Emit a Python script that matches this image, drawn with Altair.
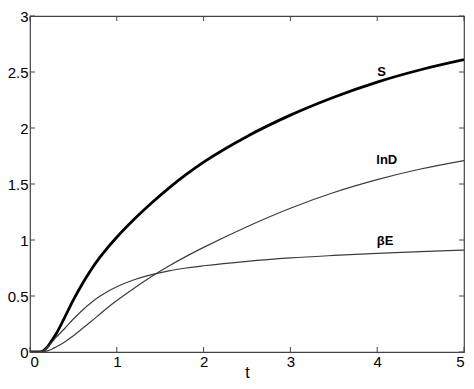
import altair as alt
import pandas as pd

t = [0, 0.1, 0.15, 0.2, 0.25, 0.3, 0.4, 0.5, 0.6, 0.7, 0.8, 0.9, 1.0, 1.2, 1.4, 1.6, 1.8, 2.0, 2.5, 3.0, 3.5, 4.0, 4.5, 5.0]
S = [0, 0, 0.01, 0.045, 0.10, 0.16, 0.31, 0.465, 0.605, 0.73, 0.84, 0.937, 1.025, 1.185, 1.33, 1.463, 1.585, 1.695, 1.925, 2.115, 2.275, 2.41, 2.52, 2.61]
bE = [0, 0, 0.01, 0.04, 0.085, 0.13, 0.21, 0.295, 0.371, 0.438, 0.495, 0.543, 0.583, 0.645, 0.691, 0.725, 0.75, 0.77, 0.81, 0.84, 0.862, 0.881, 0.897, 0.91]
lnD = [0, 0, 0.002, 0.01, 0.025, 0.045, 0.09, 0.145, 0.207, 0.27, 0.335, 0.40, 0.46, 0.57, 0.674, 0.768, 0.854, 0.934, 1.119, 1.284, 1.424, 1.539, 1.634, 1.709]

label_text = ["S", "lnD", "βE"]
label_t = [4.05, 4.11, 4.09]
label_y = [2.50, 1.71, 0.99]

x_ticks = [0, 1, 2, 3, 4, 5]
y_ticks = [0, 0.5, 1, 1.5, 2, 2.5, 3]

W, H = 434, 336
FONT = "Liberation Sans"

xs = alt.Scale(domain=[0, 5], nice=False)
ys = alt.Scale(domain=[0, 3], nice=False)

x_axis = alt.Axis(values=x_ticks, format="~g", ticks=False, domain=False, grid=False,
                  labelFontSize=15, labelPadding=2, labelColor="#000", labelFont=FONT,
                  titleFontSize=16, titleFontWeight="normal", titleColor="#000", titleFont=FONT,
                  titleBaseline="alphabetic", titleY=25)
y_axis = alt.Axis(values=y_ticks, format="~g", ticks=False, domain=False, grid=False,
                  labelFontSize=15, labelPadding=2, labelColor="#000", labelFont=FONT)


def X(field):
    return alt.X(field, scale=xs, title="t", axis=x_axis)


def Y(field):
    return alt.Y(field, scale=ys, title=None, axis=y_axis)


def curve(vals, color, width):
    df = pd.DataFrame({"t": t, "value": vals})
    return alt.Chart(df).mark_line(interpolate="monotone", clip=True, color=color,
                                   strokeWidth=width).encode(x=X("t:Q"), y=Y("value:Q"))


line_S = curve(S, "#000000", 2.8)
line_lnD = curve(lnD, "#3c3c3c", 1.2)
line_bE = curve(bE, "#3c3c3c", 1.2)

lab_df = pd.DataFrame({"t": label_t, "y": label_y, "text": label_text})
labels = alt.Chart(lab_df).mark_text(fontSize=13, fontWeight="bold", font=FONT,
                                     color="#000", align="center", baseline="middle").encode(
    x=X("t:Q"), y=Y("y:Q"), text="text:N")

xt = pd.DataFrame({"t": x_ticks})
yt = pd.DataFrame({"v": y_ticks})
tick_color = "#444444"
xb = alt.Chart(xt).mark_rule(color=tick_color, strokeWidth=1).encode(
    x=X("t:Q"), y=alt.value(H), y2=alt.value(H - 5))
xtop = alt.Chart(xt).mark_rule(color=tick_color, strokeWidth=1).encode(
    x=X("t:Q"), y=alt.value(0), y2=alt.value(5))
yl = alt.Chart(yt).mark_rule(color=tick_color, strokeWidth=1).encode(
    y=Y("v:Q"), x=alt.value(0), x2=alt.value(5))
yr = alt.Chart(yt).mark_rule(color=tick_color, strokeWidth=1).encode(
    y=Y("v:Q"), x=alt.value(W), x2=alt.value(W - 5))

chart = alt.layer(line_S, xb, xtop, yl, yr, line_lnD, line_bE, labels).properties(
    width=W, height=H,
    autosize=alt.AutoSizeParams(type="none"),
    padding={"left": 22, "top": 8, "right": 2, "bottom": 29},
    background="white",
).configure_view(stroke="#444444", strokeWidth=1.2)

chart.save("out.html", embed_options={"renderer": "svg", "actions": False})
